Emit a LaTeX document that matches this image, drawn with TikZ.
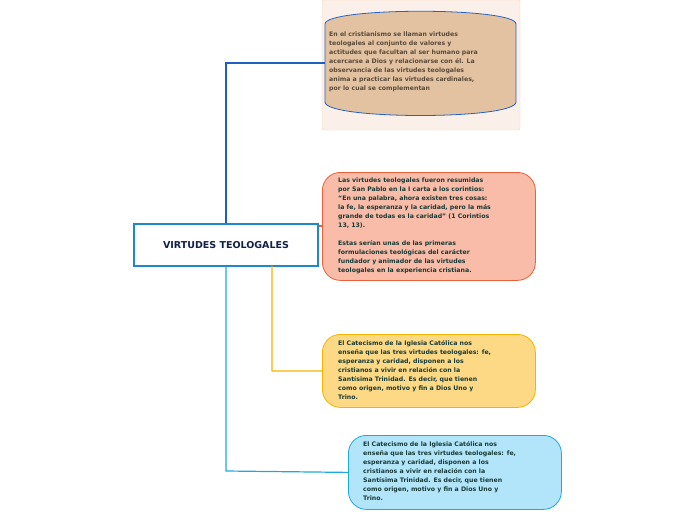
\documentclass[tikz,border=0pt]{standalone}
\usepackage{fontspec}
\setmainfont{DejaVu Sans}
\begin{document}
\begin{tikzpicture}[x=1pt,y=-1pt,
  txt/.style={font=\bfseries\fontsize{6.2}{9}\selectfont,align=left,anchor=north west,inner sep=0pt,text=tdark},
  conn/.style={line width=1.2pt}]
\definecolor{tdark}{HTML}{173A36}
\definecolor{cyltxt}{HTML}{5A4A3A}
\useasboundingbox (0,0) rectangle (696,520);
% top panel
\draw[draw=orange!35,fill={rgb,255:red,251;green,239;blue,234},rounded corners=2pt] (322,0) rectangle (520,130);
\draw[draw={rgb,255:red,37;green,99;blue,199},fill={rgb,255:red,226;green,194;blue,161},line width=0.8pt]
  (325,24) .. controls (325,7) and (516,7) .. (516,24) -- (516,102) .. controls (516,120) and (325,120) .. (325,102) -- cycle;
\coordinate (cyl) at (325,63);
\node[txt,text=cyltxt] (t1) at (329,32) {En el cristianismo se llaman virtudes\\teologales al conjunto de valores y\\actitudes que facultan al ser humano para\\acercarse a Dios y relacionarse con él. La\\observancia de las virtudes teologales\\anima a practicar las virtudes cardinales,\\por lo cual se complementan};
% root
\node[draw={rgb,255:red,30;green,136;blue,200},line width=1.2pt,fill=white,minimum width=184pt,minimum height=42pt,inner sep=0pt,
  font=\bfseries\fontsize{9.5}{11}\selectfont,text={rgb,255:red,16;green,32;blue,72}] (root) at (226,245) {VIRTUDES TEOLOGALES};
% box2
\node[draw={rgb,255:red,232;green,97;blue,58},fill={rgb,255:red,248;green,188;blue,168},rounded corners=18pt,line width=0.8pt,minimum width=213pt,minimum height=108pt,anchor=north west] (b2) at (322,172) {};
\node[txt] at (338,178) {Las virtudes teologales fueron resumidas\\por San Pablo en la I carta a los corintios:\\“En una palabra, ahora existen tres cosas:\\la fe, la esperanza y la caridad, pero la más\\grande de todas es la caridad” (1 Corintios\\13, 13).\\[9pt]Estas serían unas de las primeras\\formulaciones teológicas del carácter\\fundador y animador de las virtudes\\teologales en la experiencia cristiana.};
% box3
\node[draw={rgb,255:red,245;green,180;blue,0},fill={rgb,255:red,253;green,217;blue,133},rounded corners=18pt,line width=0.8pt,minimum width=213pt,minimum height=73pt,anchor=north west] (b3) at (322,334) {};
\node[txt] at (338,340) {El Catecismo de la Iglesia Católica nos\\enseña que las tres virtudes teologales: fe,\\esperanza y caridad, disponen a los\\cristianos a vivir en relación con la\\Santísima Trinidad. Es decir, que tienen\\como origen, motivo y fin a Dios Uno y\\Trino.};
% box4
\node[draw={rgb,255:red,30;green,168;blue,224},fill={rgb,255:red,179;green,229;blue,250},rounded corners=18pt,line width=0.8pt,minimum width=213pt,minimum height=74pt,anchor=north west] (b4) at (348,435) {};
\node[txt] at (363,441) {El Catecismo de la Iglesia Católica nos\\enseña que las tres virtudes teologales: fe,\\esperanza y caridad, disponen a los\\cristianos a vivir en relación con la\\Santísima Trinidad. Es decir, que tienen\\como origen, motivo y fin a Dios Uno y\\Trino.};
% connectors
\draw[conn,draw={rgb,255:red,30;green,95;blue,192}] (root.north) -- (226,63) -- (cyl);
\draw[conn,draw={rgb,255:red,232;green,97;blue,58}] (root.east |- 0,226) -- (b2.west |- 0,226);
\draw[conn,draw={rgb,255:red,245;green,180;blue,0}] (272,266) -- (272,371) -- (b3.west);
\draw[conn,draw={rgb,255:red,30;green,168;blue,224}] (root.south) -- (226,471) -- (b4.west);
\end{tikzpicture}
\end{document}
